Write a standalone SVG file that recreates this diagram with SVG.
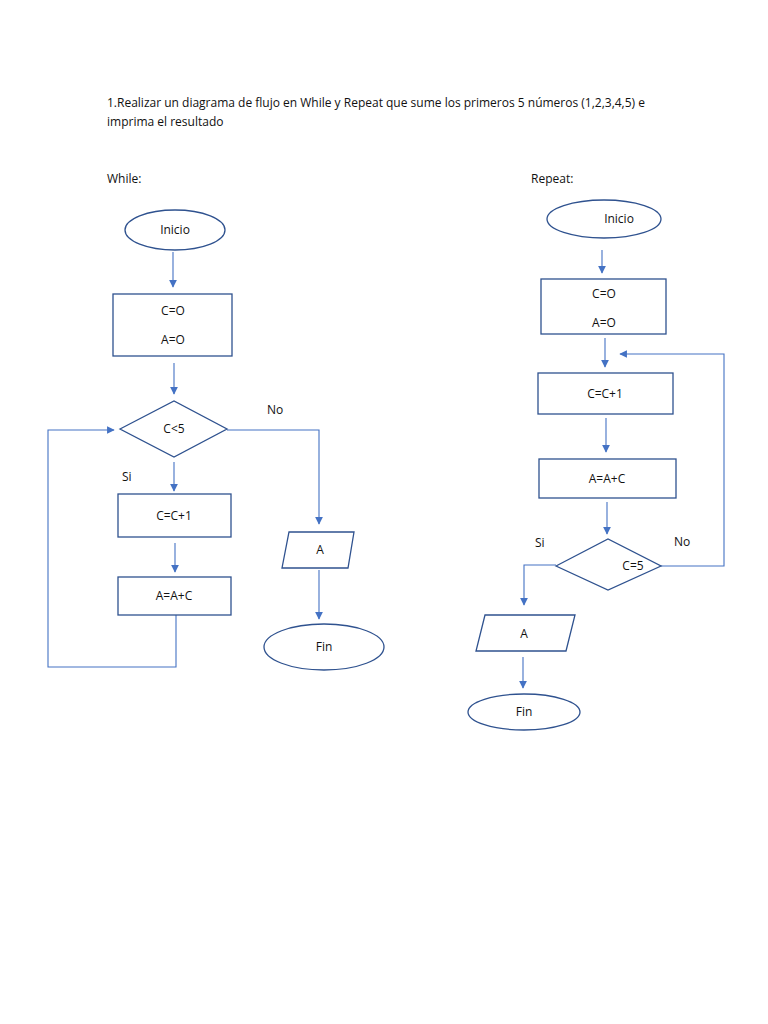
<svg xmlns="http://www.w3.org/2000/svg" width="768" height="1024" viewBox="0 0 768 1024">
<defs>
<marker id="ah" viewBox="0 0 10 10" refX="9" refY="5" markerWidth="7" markerHeight="7" orient="auto"><path d="M0,0 L10,5 L0,10 z" fill="#4472c4"/></marker>
<style>
.s{fill:#fff;stroke:#2f528f;stroke-width:1.3}
.c{fill:none;stroke:#4472c4;stroke-width:1.1}
.a{fill:none;stroke:#4472c4;stroke-width:1.1;marker-end:url(#ah)}
text{font-family:"Open Sans","Liberation Sans",sans-serif;font-size:12px;fill:#111}
.m{text-anchor:middle}
</style>
</defs>
<rect width="768" height="1024" fill="#fff"/>
<text x="107" y="107" font-size="13">1.Realizar un diagrama de flujo en While y Repeat que sume los primeros 5 números (1,2,3,4,5) e</text>
<text x="107" y="126" font-size="13">imprima el resultado</text>
<text x="107" y="183">While:</text>
<text x="531" y="183">Repeat:</text>
<g id="connectors">
<line class="a" x1="173" y1="252" x2="173" y2="287"/>
<line class="a" x1="174" y1="363" x2="174" y2="394"/>
<polyline class="a" points="227,430 319,430 319,524"/>
<line class="a" x1="174" y1="462" x2="174" y2="491"/>
<line class="a" x1="175" y1="543" x2="175" y2="572"/>
<polyline class="a" points="176,615 176,667 48,667 48,430 114,430"/>
<line class="a" x1="319" y1="570" x2="319" y2="619"/>
<line class="a" x1="602" y1="250" x2="602" y2="273"/>
<line class="a" x1="605" y1="338" x2="605" y2="367"/>
<line class="a" x1="606" y1="418" x2="606" y2="452"/>
<line class="a" x1="607" y1="502" x2="607" y2="534"/>
<polyline class="a" points="661,566 724,566 724,354 620,354"/>
<polyline class="a" points="556,565 524,565 524,605"/>
<line class="a" x1="523" y1="657" x2="523" y2="688"/>
</g>
<text x="267" y="414">No</text>
<text x="122" y="481">Si</text>
<text x="535" y="547">Si</text>
<text x="674" y="546">No</text>
<g id="w-inicio"><ellipse class="s" cx="175" cy="230" rx="50" ry="20"/><text class="m" x="175" y="234">Inicio</text></g>
<g id="w-init"><rect class="s" x="113" y="294" width="119" height="62"/><text class="m" x="173" y="315">C=O</text><text class="m" x="173" y="344">A=O</text></g>
<g id="w-cond"><polygon class="s" points="120,429 174,401 227,429 174,457"/><text class="m" x="174" y="433">C&lt;5</text></g>
<g id="w-inc"><rect class="s" x="118" y="494" width="113" height="43"/><text class="m" x="174" y="520">C=C+1</text></g>
<g id="w-sum"><rect class="s" x="118" y="577" width="113" height="38"/><text class="m" x="174" y="600">A=A+C</text></g>
<g id="w-out"><polygon class="s" points="289,532 354,532 348,568 282,568"/><text class="m" x="320" y="554">A</text></g>
<g id="w-fin"><ellipse class="s" cx="324" cy="647" rx="60" ry="23"/><text class="m" x="324" y="651">Fin</text></g>
<g id="r-inicio"><ellipse class="s" cx="604" cy="219" rx="57" ry="19"/><text class="m" x="619" y="223">Inicio</text></g>
<g id="r-init"><rect class="s" x="541" y="279" width="125" height="55"/><text class="m" x="604" y="298">C=O</text><text class="m" x="604" y="327">A=O</text></g>
<g id="r-inc"><rect class="s" x="538" y="373" width="135" height="41"/><text class="m" x="605" y="398">C=C+1</text></g>
<g id="r-sum"><rect class="s" x="539" y="459" width="137" height="39"/><text class="m" x="607" y="483">A=A+C</text></g>
<g id="r-cond"><polygon class="s" points="556,566 608,539 661,566 608,590"/><text class="m" x="633" y="570">C=5</text></g>
<g id="r-out"><polygon class="s" points="485,615 575,615 566,651 476,651"/><text class="m" x="524" y="638">A</text></g>
<g id="r-fin"><ellipse class="s" cx="524" cy="712" rx="56" ry="18"/><text class="m" x="524" y="716">Fin</text></g>
</svg>
